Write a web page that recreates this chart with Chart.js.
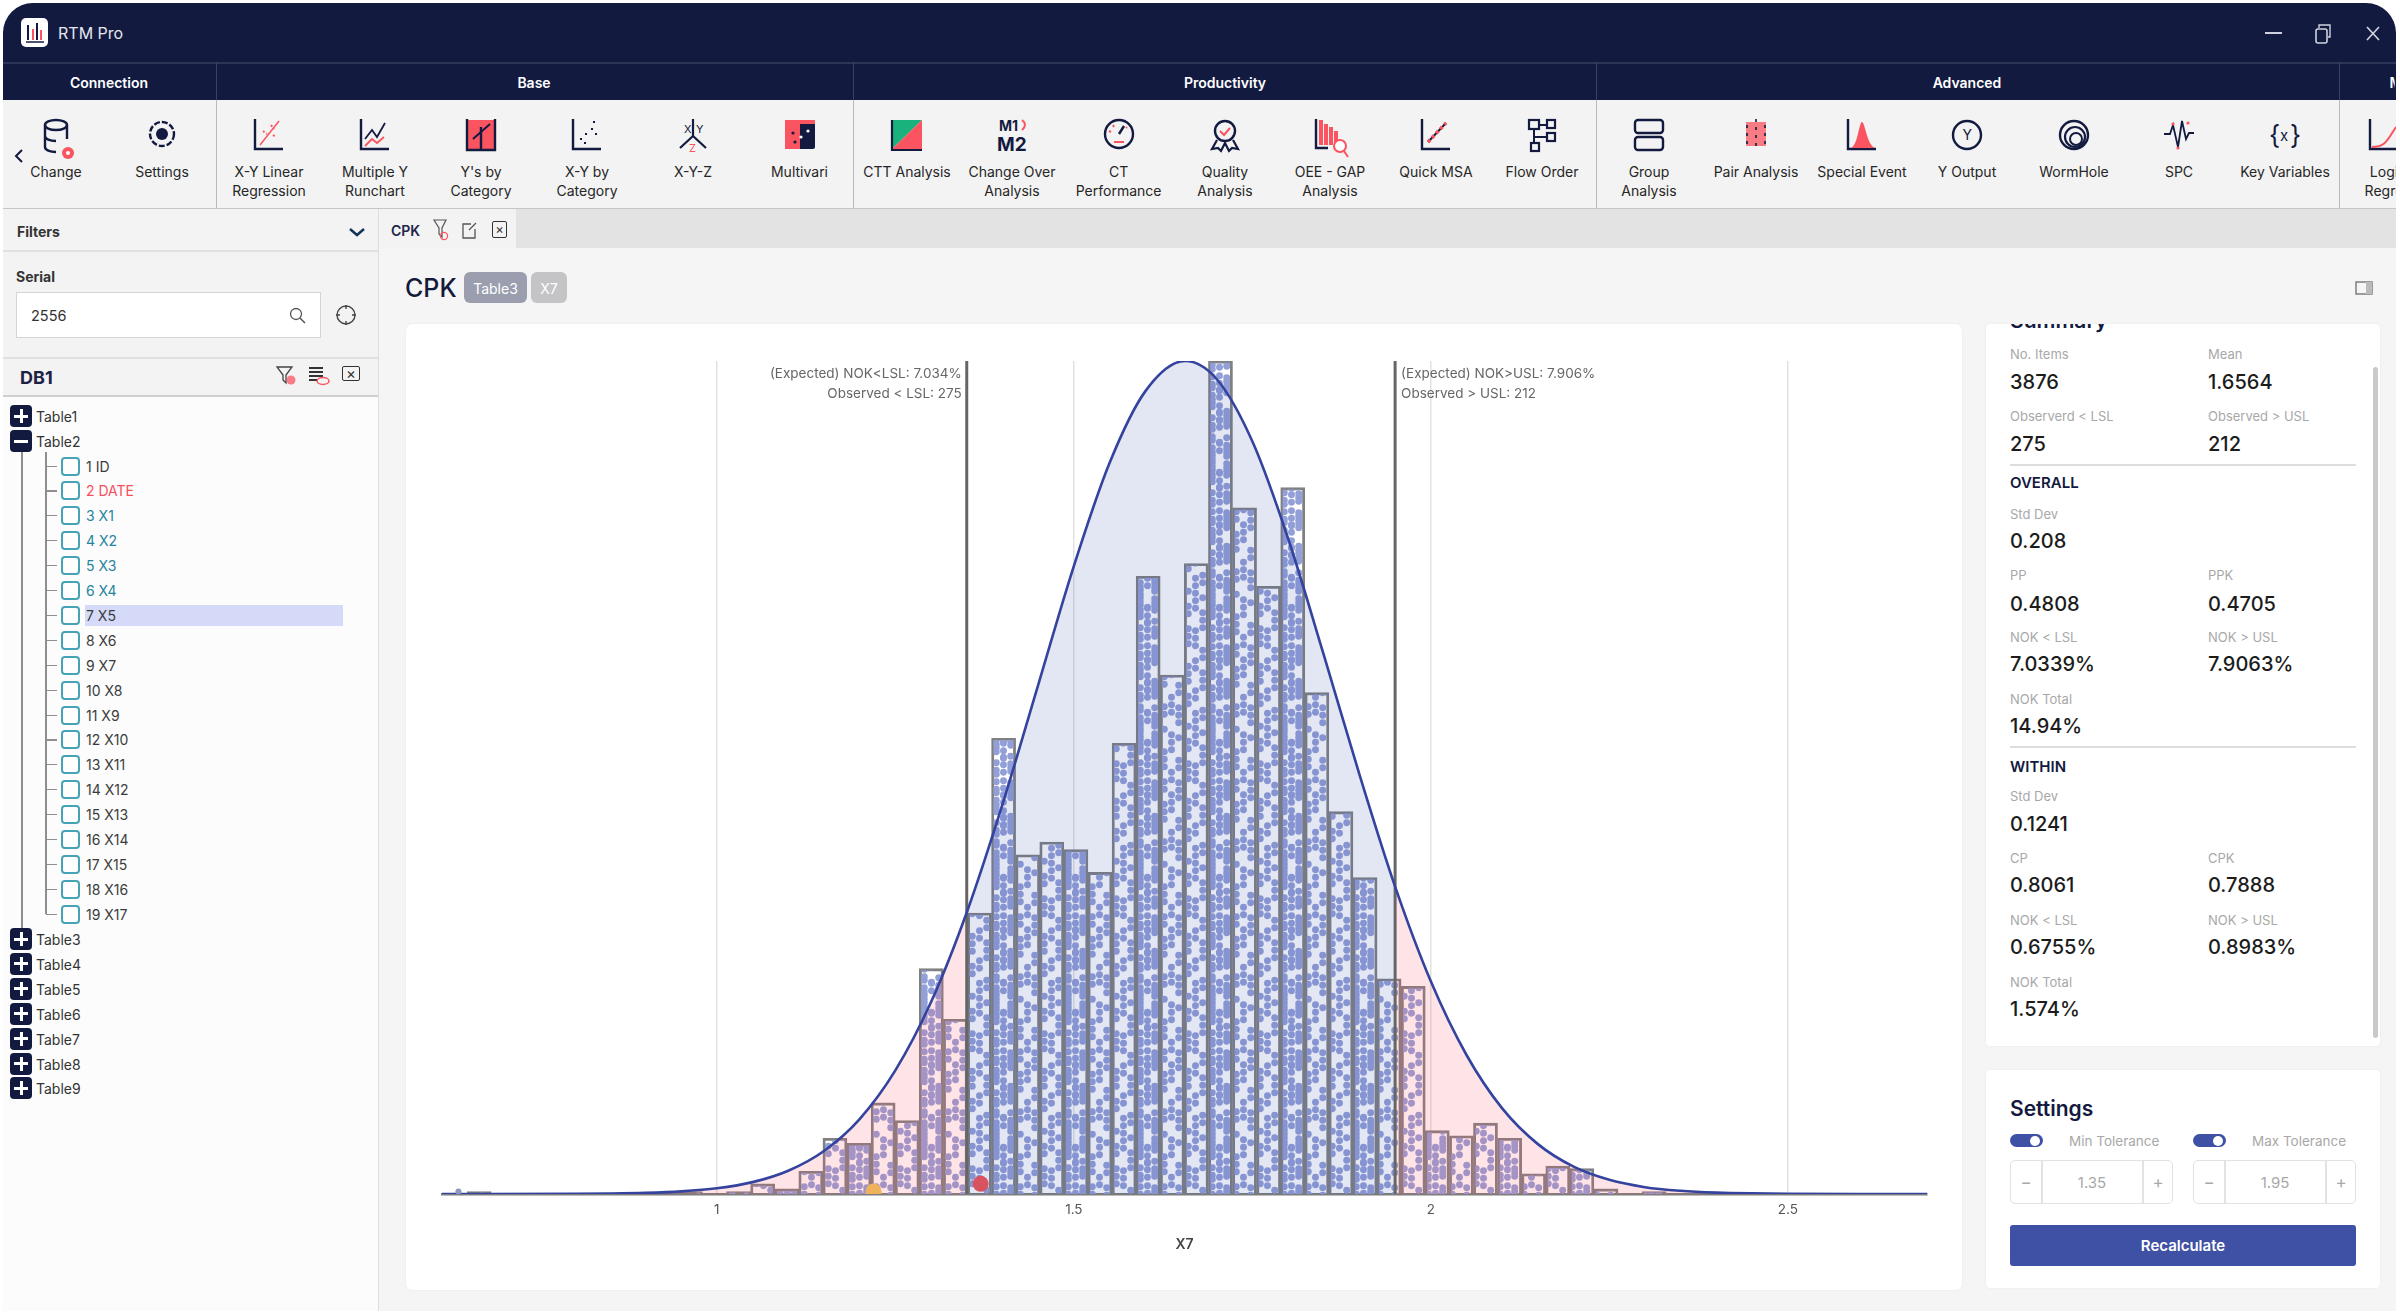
<!DOCTYPE html>
<html><head><meta charset="utf-8"><title>RTM Pro CPK</title>
<script src="https://cdn.jsdelivr.net/npm/chart.js@4"></script>
<style>
*{box-sizing:border-box}
html,body{margin:0;padding:0;background:#fff;width:2400px;height:1313px;overflow:hidden;font-family:Inter,Lato,sans-serif;color:#222}
.a{position:absolute;white-space:nowrap}
.c{transform:translate(-50%,-50%);text-align:center}
.v{transform:translateY(-50%)}
svg{position:absolute;overflow:visible}
</style></head><body>
<div id="app" class="a" style="left:3px;top:3px;width:2393px;height:1308px;background:#f5f5f5;border-radius:30px 30px 0 0;overflow:hidden"></div>
<div id="root" class="a" style="left:0;top:0;width:2400px;height:1313px"></div>
<script>
// ---------- chart data ----------
const binCenters=[0.667,0.9629,1.0304,1.0641,1.0979,1.1316,1.1654,1.1991,1.2329,1.2666,1.3004,1.3341,1.3679,1.4016,1.4354,1.4691,1.5029,1.5366,1.5704,1.6041,1.6379,1.6716,1.7054,1.7391,1.7729,1.8066,1.8404,1.8741,1.9079,1.9416,1.9754,2.0091,2.0429,2.0766,2.1104,2.1441,2.1779,2.2116,2.2454,2.3129];
const binCounts=[1,1,1,4,2,9,22,20,36,29,89,69,111,180,134,139,136,127,178,244,205,249,329,271,240,279,198,151,125,85,82,25,23,28,22,8,11,10,2,1];
const curveX=[0.615,0.8,0.85,0.9,0.95,1.0,1.05,1.1,1.15,1.2,1.25,1.3,1.35,1.4,1.45,1.5,1.55,1.6,1.656,1.7,1.75,1.8,1.85,1.9,1.95,2.0,2.05,2.1,2.15,2.2,2.25,2.3,2.35,2.4,2.45,2.5,2.6,2.695];
const curveY=[0,0.07,0.18,0.44,1.03,2.26,4.69,9.2,17,29.6,48.8,75.8,111.2,153.9,201,248,288.7,317,329,321.9,297.3,259,213,165.7,121.4,84,54.9,33.8,19.7,10.8,5.6,2.7,1.27,0.55,0.23,0.09,0.01,0];
const xTicks=[1,1.5,2,2.5];
const lsl=1.35, usl=1.95, xMin=0.615, xMax=2.695, yMax=329;
const lslNotes=["(Expected) NOK<LSL: 7.034%","Observed < LSL: 275"];
const uslNotes=["(Expected) NOK>USL: 7.906%","Observed > USL: 212"];
const markX=[1.3695,1.2195,0.638];
const markY=[4,1,1];
const markColors=["#d9525f","#eeb35a","#8f98bd"];
const axisTitle="X7";
// ---------- bar texture (style only) ----------
const dotCols=["111011001110110111","011100111011100110","110111011001110011","001110110111001101","111001101110011100","100110111001101110","011011100111011001","110011101100110111","101110011011100110","111001110110011011","010111001101110100","110010111001101110"];
const dotColOffX=[5,12.2,19.4];
const dotColOffY=[0,3,1,4,2,5,1,3,0,4,2,5];
// ---------- app chrome text ----------
const sections=[["Connection",109],["Base",534],["Productivity",1225],["Advanced",1967],["M",2396]];
const seps=[216,853,1596,2339];
const tools=[["Change","",56,"db"],["Settings","",162,"gear"],["X-Y Linear","Regression",269,"xy"],["Multiple Y","Runchart",375,"run"],["Y's by","Category",481,"ys"],["X-Y by","Category",587,"xyc"],["X-Y-Z","",693,"xyz"],["Multivari","",799.5,"mv"],["CTT Analysis","",907,"ctt"],["Change Over","Analysis",1012,"m12"],["CT","Performance",1118.6,"ct"],["Quality","Analysis",1225,"q"],["OEE - GAP","Analysis",1330,"oee"],["Quick MSA","",1436,"msa"],["Flow Order","",1542,"flow"],["Group","Analysis",1649,"grp"],["Pair Analysis","",1756,"pair"],["Special Event","",1862,"se"],["Y Output","",1967,"y"],["WormHole","",2074,"wh"],["SPC","",2179,"spc"],["Key Variables","",2285,"key"],["Logi","Regre",2384,"log"]];
const N="#131a40",R="#f9545f";
const icons={
db:`<ellipse cx="16" cy="6" rx="11" ry="5" fill="none" stroke="${N}" stroke-width="2.4"/><path d="M5 6v22c0 3 5 5 11 5M27 6v14M5 17c0 3 5 5 11 5" fill="none" stroke="${N}" stroke-width="2.4"/><circle cx="28" cy="34" r="6" fill="${R}"/><circle cx="28" cy="34" r="2" fill="#fff"/>`,
gear:`<circle cx="16" cy="15" r="12" fill="none" stroke="${N}" stroke-width="2.4" stroke-dasharray="6 2"/><circle cx="16" cy="15" r="6" fill="${N}"/>`,
xy:`<path d="M2 0v30h28" fill="none" stroke="${N}" stroke-width="2.4"/><path d="M7 26L26 2" stroke="${R}" stroke-width="1.5"/><path d="M10 12l4 3M18 6l3 4M20 16l3 2" stroke="${R}" stroke-width="2" stroke-dasharray="2 2"/>`,
run:`<path d="M2 0v30h28" fill="none" stroke="${N}" stroke-width="2.4"/><path d="M6 20l7-9 5 7 8-14" fill="none" stroke="${N}" stroke-width="1.8"/><path d="M6 27l7-7 5 4 7-6" fill="none" stroke="${R}" stroke-width="1.8"/>`,
ys:`<rect x="2" y="1" width="28" height="29" fill="${R}"/><path d="M2 0v31h28V0M16 8v23" fill="none" stroke="${N}" stroke-width="2.4"/><path d="M8 20L25 5" stroke="${N}" stroke-width="2"/>`,
xyc:`<path d="M2 0v30h28" fill="none" stroke="${N}" stroke-width="2.4"/><path d="M9 20h2M14 15h2M20 10h2M24 15h2M22 3h2M13 24h2" stroke="${N}" stroke-width="2"/>`,
xyz:`<path d="M16 0v17M16 17L3 29M16 17l13 12" fill="none" stroke="${N}" stroke-width="2.2"/><text x="7" y="14" font-size="11" font-family="Inter" fill="${N}">X</text><text x="19" y="14" font-size="11" font-family="Inter" fill="${N}">Y</text><text x="12" y="33" font-size="11" font-family="Inter" fill="${R}">Z</text>`,
mv:`<rect x="1" y="1" width="30" height="29" rx="2" fill="${N}"/><rect x="1" y="1" width="15" height="29" fill="${R}"/><path d="M1 3h30" stroke="${R}" stroke-width="4"/><circle cx="9" cy="14" r="1.6" fill="${N}"/><circle cx="17" cy="18" r="1.6" fill="#fff"/><circle cx="24" cy="12" r="1.6" fill="#fff"/><circle cx="11" cy="23" r="1.6" fill="${N}"/>`,
ctt:`<path d="M1 1h30L1 30z" fill="#19b27c"/><path d="M31 1v29H1z" fill="${R}"/><path d="M1 1v30h30" fill="none" stroke="${N}" stroke-width="2.2"/>`,
m12:`<text x="3" y="12" font-size="14" font-weight="700" font-family="Inter" fill="${N}">M1</text><text x="1" y="32" font-size="19" font-weight="700" font-family="Inter" fill="${N}">M2</text><path d="M26 1c4 3 4 6 0 10" fill="none" stroke="${R}" stroke-width="2"/>`,
ct:`<circle cx="16" cy="15" r="14" fill="none" stroke="${N}" stroke-width="2.4"/><path d="M16 15l5-8" stroke="${N}" stroke-width="2.4"/><path d="M11 23h10" stroke="${R}" stroke-width="2"/><path d="M6 12l2 1M10 6l1 2M24 8l-1 1" stroke="${R}" stroke-width="2"/>`,
q:`<circle cx="16" cy="12" r="10" fill="none" stroke="${N}" stroke-width="2.4"/><path d="M8 21l-5 9 6-1 3 3 4-8 4 8 3-3 6 1-5-9" fill="none" stroke="${N}" stroke-width="2.2"/><path d="M11 12l4 4 6-7" fill="none" stroke="${R}" stroke-width="2"/>`,
oee:`<path d="M2 0v29h12" fill="none" stroke="${N}" stroke-width="2.4"/><path d="M7 1v25M12 5v21M17 8v18M22 12v12" stroke="${R}" stroke-width="4"/><circle cx="26" cy="27" r="6" fill="#fff" stroke="${R}" stroke-width="2"/><path d="M30 32l4 6" stroke="${R}" stroke-width="2"/>`,
msa:`<path d="M2 0v30h28" fill="none" stroke="${N}" stroke-width="2.4"/><path d="M8 23L26 4" stroke="${N}" stroke-width="2"/><path d="M8 23L26 4" stroke="${R}" stroke-width="3.6" stroke-dasharray="3 3"/>`,
flow:`<path d="M8 6h16M8 6v24M8 18h12" fill="none" stroke="${N}" stroke-width="2"/><rect x="3" y="1" width="10" height="9" fill="#f3f3f3" stroke="${N}" stroke-width="2.2"/><rect x="21" y="1" width="8" height="8" fill="#f3f3f3" stroke="${N}" stroke-width="2.2"/><rect x="21" y="14" width="8" height="8" fill="#f3f3f3" stroke="${N}" stroke-width="2.2"/><rect x="5" y="24" width="8" height="8" fill="#f3f3f3" stroke="${N}" stroke-width="2.2"/>`,
grp:`<rect x="2" y="1" width="28" height="13" rx="3" fill="none" stroke="${N}" stroke-width="2.4"/><rect x="2" y="18" width="28" height="13" rx="3" fill="none" stroke="${N}" stroke-width="2.4"/>`,
pair:`<path d="M6 3h20v24H6z" fill="${R}" opacity=".75"/><path d="M16 0v30M7 6v20M25 6v20" stroke="${N}" stroke-width="1.6" stroke-dasharray="3 5"/>`,
se:`<path d="M2 0v30h28" fill="none" stroke="${N}" stroke-width="2.4"/><path d="M5 29C12 26 13 3 16 3s5 23 13 26z" fill="${R}"/>`,
y:`<circle cx="16" cy="16" r="14" fill="none" stroke="${N}" stroke-width="2.4"/><text x="11.5" y="21" font-size="14" font-family="Inter" fill="${N}">Y</text>`,
wh:`<circle cx="16" cy="16" r="14" fill="none" stroke="${N}" stroke-width="2.4"/><circle cx="17" cy="18" r="10" fill="none" stroke="${N}" stroke-width="2.2"/><circle cx="18" cy="20" r="6" fill="none" stroke="${N}" stroke-width="2"/>`,
spc:`<path d="M1 15h6l3-9 5 22 4-26 4 18 3-6h5" fill="none" stroke="${N}" stroke-width="1.8"/><circle cx="10" cy="5" r="1.6" fill="${R}"/><circle cx="15" cy="29" r="1.6" fill="${R}"/><circle cx="25" cy="4" r="1.6" fill="${R}"/>`,
key:`<text x="0" y="25" font-size="26" font-family="Inter" fill="${N}">{</text><text x="11" y="22" font-size="15" font-family="Inter" fill="${N}">x</text><text x="21" y="25" font-size="26" font-family="Inter" fill="${N}">}</text>`,
log:`<path d="M2 0v30h28" fill="none" stroke="${N}" stroke-width="2.4"/><path d="M4 28c14 0 16-8 24-20" fill="none" stroke="${R}" stroke-width="2"/>`
};
const closed1=["Table1"];
const closed2=["Table3","Table4","Table5","Table6","Table7","Table8","Table9"];
const fields=["1 ID","2 DATE","3 X1","4 X2","5 X3","6 X4","7 X5","8 X6","9 X7","10 X8","11 X9","12 X10","13 X11","14 X12","15 X13","16 X14","17 X15","18 X16","19 X17"];
const stats=[["No. Items",354,2010],["3876",382,2010,1],["Mean",354,2208],["1.6564",382,2208,1],["Observerd < LSL",416,2010],["275",444,2010,1],["Observed > USL",416,2208],["212",444,2208,1],["Std Dev",514,2010],["0.208",541,2010,1],["PP",575,2010],["0.4808",604,2010,1],["PPK",575,2208],["0.4705",604,2208,1],["NOK < LSL",637,2010],["7.0339%",664,2010,1],["NOK > USL",637,2208],["7.9063%",664,2208,1],["NOK Total",699,2010],["14.94%",726,2010,1],["Std Dev",796,2010],["0.1241",824,2010,1],["CP",858,2010],["0.8061",885,2010,1],["CPK",858,2208],["0.7888",885,2208,1],["NOK < LSL",920,2010],["0.6755%",947,2010,1],["NOK > USL",920,2208],["0.8983%",947,2208,1],["NOK Total",982,2010],["1.574%",1009,2010,1]];
// ---------- build chrome ----------
let h="";
const box=(x,y,w,ht,st)=>`<div class="a" style="left:${x}px;top:${y}px;width:${w}px;height:${ht}px;${st}"></div>`;
const txt=(t,x,y,st)=>`<div class="a v" style="left:${x}px;top:${y}px;${st}">${t.replace(/</g,"&lt;")}</div>`;
const ctxt=(t,x,y,st)=>`<div class="a c" style="left:${x}px;top:${y}px;${st}">${t.replace(/</g,"&lt;")}</div>`;
const svg=(x,y,w,ht,inner,vb)=>`<svg style="left:${x}px;top:${y}px" width="${w}" height="${ht}" viewBox="${vb||`0 0 ${w} ${ht}`}">${inner}</svg>`;
document.getElementById("app").innerHTML=box(0,0,2393,97,"background:"+N)+box(0,59,2393,2,"background:#2d3557")+box(0,97,2393,109,"background:#f3f3f3")+box(0,205,2393,2,"background:#c6c6c6");
h+=box(21,18,27,29,"background:#fff;border-radius:5px");
h+=svg(21,18,27,29,`<path d="M7 7v15M12 11v11M16 5v17M20 12v10" stroke="${N}" stroke-width="2"/><path d="M12 11v11M20 12v10" stroke="${R}" stroke-width="2"/><path d="M5 24h18" stroke="${N}" stroke-width="1.5"/>`);
h+=txt("RTM Pro",58,33,"color:#e4e6ef;font-size:16px");
h+=svg(2265,24,118,20,`<path d="M0 9h17" stroke="#cfd2dd" stroke-width="2"/><rect x="51" y="5" width="11" height="14" rx="2" fill="none" stroke="#cfd2dd" stroke-width="1.6"/><path d="M54 4V1h11v12h-2" fill="none" stroke="#cfd2dd" stroke-width="1.4"/><path d="M102 3l12 13M114 3l-12 13" stroke="#cfd2dd" stroke-width="1.7"/>`);
seps.forEach(x=>{h+=box(x,62,1,38,"background:#3a4163")+box(x,100,1,108,"background:#b9b9b9")});
sections.forEach(s=>{h+=ctxt(s[0],s[1],81.5,"color:#fff;font-size:14px;font-weight:600"+(s[0]==="M"?";clip-path:inset(0 60% 0 0)":""))});
tools.forEach(t=>{h+=svg(t[2]-16,119,32,34,icons[t[3]]||"","0 0 32 34");h+=ctxt(t[0],t[2],171,"font-size:14px;color:#262626");if(t[1])h+=ctxt(t[1],t[2],190,"font-size:14px;color:#262626")});
h+=svg(14,148,10,16,`<path d="M8 2L2 8l6 6" fill="none" stroke="${N}" stroke-width="2"/>`);
h+=box(2396,0,4,230,"background:#fff");
// left panel
h+=box(3,209,375,1102,"background:#f3f3f3")+box(378,209,1,1102,"background:#dedede");
h+=box(3,250,375,2,"background:#e0e0e0");
h+=txt("Filters",17,231,"font-size:14px;font-weight:700;color:#333");
h+=svg(349,227,16,10,`<path d="M1 2l7 6 7-6" fill="none" stroke="#15365a" stroke-width="2.5"/>`);
h+=txt("Serial",16,276,"font-size:14px;font-weight:700;color:#333");
h+=box(16,292,305,46,"background:#fff;border:1px solid #d4d4d4");
h+=txt("2556",31,315,"font-size:14.5px;color:#333");
h+=svg(289,307,17,17,`<circle cx="7" cy="7" r="5.5" fill="none" stroke="#555" stroke-width="1.3"/><path d="M11 11l5 5" stroke="#555" stroke-width="1.5"/>`);
h+=svg(336,305,20,20,`<circle cx="10" cy="10" r="9" fill="none" stroke="#444" stroke-width="1.4"/><path d="M10 0v4M10 16v4M0 10h4M16 10h4" stroke="#444" stroke-width="1.4"/>`);
h+=box(3,357,375,2,"background:#e0e0e0")+box(3,395,375,916,"background:#fcfcfc")+box(3,395,375,2,"background:#cfcfcf");
h+=txt("DB1",20,377,"font-size:18px;font-weight:700;color:#1d2244");
h+=svg(276,366,22,20,`<path d="M1 1h15l-6 8v8l-3-3V9z" fill="none" stroke="#444" stroke-width="1.3"/><circle cx="15" cy="14" r="4.5" fill="${R}" opacity=".75"/>`);
h+=svg(308,366,22,20,`<path d="M1 2h14M1 6h14M1 10h14M1 14h9" stroke="#333" stroke-width="2"/><ellipse cx="15" cy="15" rx="6" ry="3.5" fill="none" stroke="${R}" stroke-width="1.5"/>`);
h+=box(342,366,18,15,"border:1.6px solid #333;border-radius:2px");
h+=ctxt("×",351,373,"font-size:15px;color:#333");
const plus=(y,minus)=>box(10,y-11,22,22,"background:"+N+";border-radius:4px")+box(14,y-1.5,14,3,"background:#fff")+(minus?"":box(19.5,y-7,3,14,"background:#fff"));
closed1.forEach(t=>{h+=plus(416)+txt(t,36,416,"font-size:14px;color:#333")});
h+=plus(441,true)+txt("Table2",36,441,"font-size:14px;color:#333");
h+=box(21,452,1.5,477,"background:#8f8f8f")+box(45,452,1.5,462,"background:#8f8f8f");
fields.forEach((f,i)=>{const y=465.5+i*24.9;
 if(i===6)h+=box(85,605,258,21,"background:#d5daf8");
 h+=box(46,y,11,1.2,"background:#8f8f8f")+box(61,y-9,19,19,"border:2px solid #45a3b5;border-radius:4px;background:#fff");
 const col=i===1?"#fb4e5c":(i>=2&&i<=5?"#26849f":"#3b3b3b");
 h+=txt(f,86,y,"font-size:14px;color:"+col);});
closed2.forEach((t,i)=>{const y=939+i*24.9;h+=plus(y)+txt(t,36,y,"font-size:14px;color:#333")});
// main
h+=box(379,209,2017,39,"background:#e3e3e3")+box(379,209,137,39,"background:#f3f3f3");
h+=txt("CPK",391,230,"font-size:14px;font-weight:600;color:#20264a");
h+=svg(433,219,18,22,`<path d="M1 1h12l-4 8v9l-3-3V9z" fill="none" stroke="#555" stroke-width="1.2"/><circle cx="11" cy="17" r="3.6" fill="none" stroke="${R}" stroke-width="1.2"/>`);
h+=svg(462,221,16,18,`<path d="M9 3H1v14h12V8M7 9l7-7" fill="none" stroke="#555" stroke-width="1.3"/>`);
h+=box(492,221,15,17,"border:1.4px solid #333;border-radius:2px");
h+=ctxt("×",499.5,229,"font-size:13px;color:#333");
h+=txt("CPK",405,288,"font-size:25px;font-weight:500;color:#141a3a");
h+=box(464,272,63,31,"background:#9a9eae;border-radius:6px")+ctxt("Table3",495.5,288,"font-size:14px;color:#fff");
h+=box(531,272,36,31,"background:#c4c4c7;border-radius:6px")+ctxt("X7",549,288,"font-size:14px;color:#fff");
h+=svg(2355,281,18,14,`<rect x="1" y="1" width="16" height="12" fill="none" stroke="#777" stroke-width="1.4"/><rect x="11" y="1" width="6" height="12" fill="#bbb"/>`);
h+=box(406,324,1556,966,"background:#fff;border-radius:6px;box-shadow:0 0 2px #e5e5e5");
h+=`<canvas id="cv" class="a" style="left:406px;top:324px" width="1556" height="966"></canvas>`;
// summary
h+=`<div class="a" style="left:1986px;top:324px;width:394px;height:722px;background:#fff;border-radius:4px;overflow:hidden;box-shadow:0 0 2px #e5e5e5"><div class="a" style="left:24px;top:-16px;font-size:21px;font-weight:600;color:${N}">Summary</div></div>`;
stats.forEach(s=>{h+=txt(s[0],s[2],s[1],s[3]?"font-size:20px;font-weight:500;color:#1c1c1c":"font-size:13px;color:#a8a8a8")});
h+=box(2010,464,346,1.5,"background:#ddd")+box(2010,746,346,1.5,"background:#ddd");
h+=txt("OVERALL",2010,482,`font-size:15px;font-weight:600;color:${N}`)+txt("WITHIN",2010,765.5,`font-size:15px;font-weight:600;color:${N}`);
h+=box(2373,367,5,671,"background:#c9c9c9;border-radius:3px");
// settings
h+=box(1986,1070,394,218,"background:#fff;border-radius:4px;box-shadow:0 0 2px #e5e5e5");
h+=txt("Settings",2010,1108,`font-size:21px;font-weight:600;color:${N}`);
[[2010,"Min Tolerance",2069,"1.35"],[2193,"Max Tolerance",2252,"1.95"]].forEach(o=>{
 const x=o[0];
 h+=box(x,1134,33,13,"background:#3f51a5;border-radius:7px")+box(x+20,1135.5,10,10,"background:#fff;border-radius:50%");
 h+=txt(o[1],o[2],1141,"font-size:13.5px;color:#a8a8a8");
 h+=box(x,1160,163,44,"border:1.5px solid #e2e2e2;border-radius:5px");
 h+=box(x+31,1160,1.5,44,"background:#e2e2e2")+box(x+132,1160,1.5,44,"background:#e2e2e2");
 h+=ctxt("−",x+16,1182,"font-size:17px;color:#aaa")+ctxt("+",x+148,1182,"font-size:17px;color:#aaa")+ctxt(o[3],x+82,1182,"font-size:15px;color:#a8a8a8");
});
h+=box(2010,1225,346,41,"background:#3f51a5;border-radius:3px")+ctxt("Recalculate",2183,1245,"font-size:15px;font-weight:600;color:#fff");
document.getElementById("root").innerHTML=h;
// ---------- chart ----------
const cv=document.getElementById("cv"),ctx=cv.getContext("2d");
const tile=document.createElement("canvas");tile.width=72;tile.height=135;
const tc=tile.getContext("2d");tc.fillStyle="#93a0d8";
dotCols.forEach((col,i)=>{[...col].forEach((b,r)=>{if(b!=="1")return;
 const bar=Math.floor(i/3),x=(9.3+dotColOffX[i%3]+24*bar)%72,y=r*7.5+3.7+dotColOffY[i];
 [x,x-72,x+72].forEach(px=>[y,y-135,y+135].forEach(py=>{tc.beginPath();tc.arc(px,py,3.45,0,Math.PI*2);tc.fill()}));
})});
const dotPattern=ctx.createPattern(tile,"repeat");
const pts=(lo,hi)=>curveX.map((x,i)=>({x,y:curveY[i]})).filter(p=>p.x>=lo&&p.x<=hi);
const area=(lo,hi,c)=>({type:"line",data:pts(lo,hi),borderWidth:0,borderColor:"transparent",backgroundColor:c,fill:"origin",pointRadius:0,cubicInterpolationMode:"monotone",order:3});
const vline=v=>({type:"line",data:[{x:v,y:0},{x:v,y:yMax}],borderColor:"#666",borderWidth:3,pointRadius:0,fill:false,order:2});
const pinkFill="rgba(255,90,105,0.16)",lavFill="rgba(55,75,170,0.14)";
const notes={id:"notes",afterDatasetsDraw(c){const g=c.ctx,sx=c.scales.x;g.save();g.font="13.5px Inter";g.fillStyle="#666";g.textBaseline="middle";
 const t=c.chartArea.top;
 g.textAlign="right";lslNotes.forEach((s,i)=>g.fillText(s,sx.getPixelForValue(lsl)-5,t+12.5+i*20));
 g.textAlign="left";uslNotes.forEach((s,i)=>g.fillText(s,sx.getPixelForValue(usl)+6,t+12.5+i*20));g.restore();}};
new Chart(ctx,{type:"bar",plugins:[notes],data:{datasets:[
 {type:"bar",data:binCenters.map((x,i)=>({x,y:binCounts[i]})),backgroundColor:dotPattern,borderColor:"#808080",borderWidth:2.2,barPercentage:1,categoryPercentage:1,order:5},
 area(xMin,lsl,pinkFill),area(lsl,usl,lavFill),area(usl,xMax,pinkFill),
 vline(lsl),vline(usl),
 {type:"line",data:pts(xMin,xMax),borderColor:"#33439e",borderWidth:2.6,pointRadius:0,fill:false,cubicInterpolationMode:"monotone",order:1},
 {type:"scatter",data:markX.map((x,i)=>({x,y:markY[i]})),pointRadius:[8,8,3],pointBackgroundColor:markColors,pointBorderWidth:0,showLine:false,order:0}
]},options:{responsive:false,animation:false,devicePixelRatio:1,
 layout:{padding:{left:36,right:35,top:37,bottom:0}},
 plugins:{legend:{display:false},tooltip:{enabled:false},title:{display:false}},
 scales:{
  x:{type:"linear",min:xMin,max:xMax,offset:false,
   afterBuildTicks(a){a.ticks=xTicks.map(v=>({value:v}))},
   afterFit(a){a.height=96},
   grid:{offset:false,color:"#e2e2e2",lineWidth:1.5,drawTicks:false},
   border:{color:"#7d7d7d",width:2.5},
   ticks:{padding:8,autoSkip:false,maxRotation:0,color:"#555",font:{family:"Inter",size:13.5},callback:v=>String(v)},
   title:{display:true,text:axisTitle,color:"#444",font:{family:"Inter",size:14,weight:"600"},padding:{top:0,bottom:37}}},
  y:{display:false,min:0,max:yMax}
 }}});
</script>
</body></html>
